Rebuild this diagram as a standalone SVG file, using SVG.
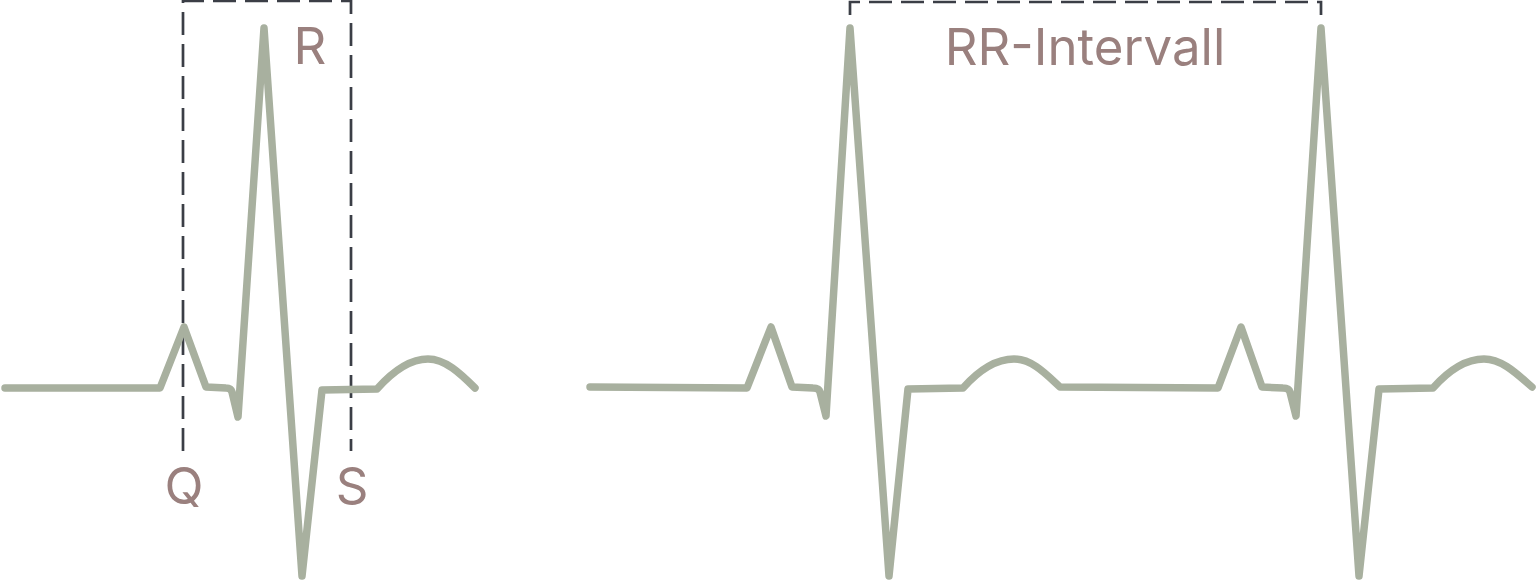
<svg xmlns="http://www.w3.org/2000/svg" width="1536" height="582" viewBox="0 0 1536 582">
<style>
.wave{fill:none;stroke:#a8b09f;stroke-width:7.5;stroke-linecap:round;stroke-linejoin:round}
.dash{fill:none;stroke:#3b3e46;stroke-width:2.7;stroke-dasharray:23 9}
.lbl{font-family:Inter,"Noto Sans","Liberation Sans",sans-serif;font-size:51px;fill:#9a807e;text-anchor:middle}
</style>
<rect width="1536" height="582" fill="#ffffff"/>
<g id="connectors">
<path class="dash" d="M183,451 V1 H351 V451"/>
<path class="dash" d="M850,15 V2 H1321 V15"/>
</g>
<g id="wave-left">
<path class="wave" d="M5,388 L160,388 L184,327 L206,387 L226,388 Q231,388 232,392 L238,417 L264,28 L302,576 L322,390 L377,389 C393,371 410,359 428,359 C445,359 460,373 475,388"/>
</g>
<g id="wave-right">
<path class="wave" d="M590,387 L747,388 L771,327 L792,387 L813,388 Q819,388 820,392 L826,416 L850,28 L889,576 L908,389 L963,388 C979,370 996,359 1014,359 C1032,359 1046,374 1060,387 L1218,388 L1241,327 L1262,387 L1283,388 Q1289,388 1290,392 L1296,416 L1321,28 L1359,576 L1379,389 L1433,388 C1449,370 1466,359 1484,359 C1502,359 1517,374 1532,387"/>
</g>
<g id="label-R"><text class="lbl" x="310" y="64">R</text></g>
<g id="label-Q"><text class="lbl" x="184" y="504">Q</text></g>
<g id="label-S"><text class="lbl" x="352" y="504">S</text></g>
<g id="label-RR"><text class="lbl" x="1085" y="65">RR-Intervall</text></g>
</svg>
